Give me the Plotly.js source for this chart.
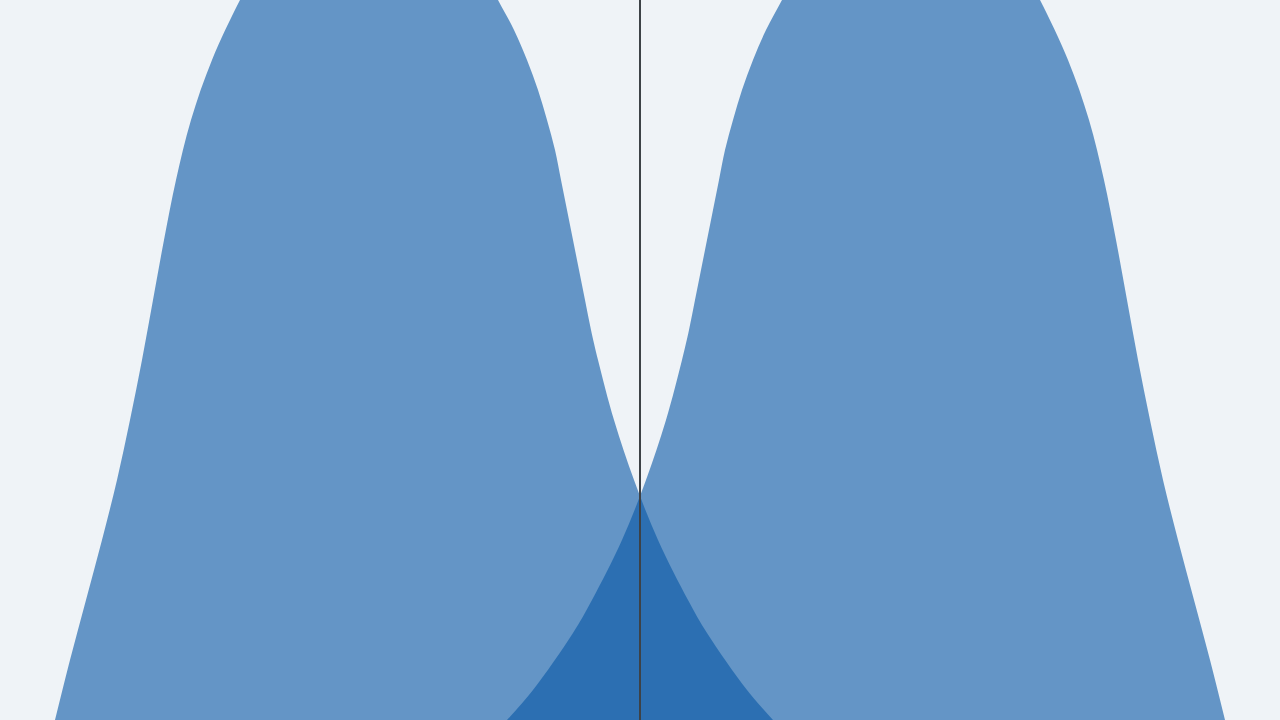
<!DOCTYPE html>
<html>
<head>
<meta charset="utf-8">
<script src="https://cdn.plot.ly/plotly-3.0.1.min.js"></script>
<style>
    html, body { margin: 0; padding: 0; background: #eff3f7; overflow: hidden; }
    #chart { width: 1280px; height: 720px; }
</style>
</head>
<body>
<div id="chart"></div>
<script>
// left density: x position and height (peak runs off the top of the view)
const leftX = [-5.85, -5.70, -5.54, -5.38, -5.23, -5.10, -4.98, -4.87, -4.76, -4.64, -4.49, -4.28, -4.00,
    -3.78, -3.50, -3.20, -2.85, -2.55, -2.25, -1.95, -1.68,
    -1.42, -1.26, -1.13, -1.02, -0.93, -0.85, -0.79, -0.73, -0.67, -0.61, -0.55, -0.49, -0.42,
    -0.26, -0.06, 0.18, 0.48, 0.67, 1.07, 1.33];
const leftY = [0, 0.6, 1.2, 1.8, 2.4, 3.0, 3.6, 4.2, 4.8, 5.4, 6.0, 6.6, 7.2,
    7.6, 8.0, 8.3, 8.48, 8.5, 8.38, 8.12, 7.7,
    7.2, 6.9, 6.6, 6.3, 6.0, 5.7, 5.4, 5.1, 4.8, 4.5, 4.2, 3.9, 3.6,
    3.0, 2.4, 1.8, 1.2, 0.87, 0.30, 0];

// right density
const rightX = [-1.33, -1.07, -0.67, -0.48, -0.18, 0.06, 0.26,
    0.42, 0.49, 0.55, 0.61, 0.67, 0.73, 0.79, 0.85, 0.93, 1.02, 1.13, 1.26, 1.42,
    1.68, 1.95, 2.25, 2.55, 2.85, 3.20, 3.50, 3.78,
    4.00, 4.28, 4.49, 4.64, 4.76, 4.87, 4.98, 5.10, 5.23, 5.38, 5.54, 5.70, 5.85];
const rightY = [0, 0.30, 0.87, 1.2, 1.8, 2.4, 3.0,
    3.6, 3.9, 4.2, 4.5, 4.8, 5.1, 5.4, 5.7, 6.0, 6.3, 6.6, 6.9, 7.2,
    7.7, 8.12, 8.38, 8.5, 8.48, 8.3, 8.0, 7.6,
    7.2, 6.6, 6.0, 5.4, 4.8, 4.2, 3.6, 3.0, 2.4, 1.8, 1.2, 0.6, 0];

// threshold marker
const splitAt = 0;

const fillColor = 'rgba(7, 86, 165, 0.6)';

function densityTrace(x, y, name) {
    return {
        x: x,
        y: y,
        name: name,
        type: 'scatter',
        mode: 'lines',
        fill: 'tozeroy',
        fillcolor: fillColor,
        // no simplify, otherwise near-straight runs lose their points and kink
        line: {width: 0, shape: 'spline', smoothing: 1, simplify: false},
        hoverinfo: 'skip',
    };
}

const layout = {
    width: 1280,
    height: 720,
    margin: {t: 0, r: 0, b: 0, l: 0},
    paper_bgcolor: '#eff3f7',
    plot_bgcolor: '#eff3f7',
    showlegend: false,
    xaxis: {range: [-6.4, 6.4], visible: false, fixedrange: true},
    yaxis: {range: [0, 7.2], visible: false, fixedrange: true},
    shapes: [
        {
            type: 'line',
            xref: 'x',
            yref: 'paper',
            x0: splitAt,
            x1: splitAt,
            y0: 0,
            y1: 1,
            line: {color: '#3d4247', width: 2},
        },
    ],
};

Plotly.newPlot(
    'chart',
    [densityTrace(leftX, leftY, 'left'), densityTrace(rightX, rightY, 'right')],
    layout,
    {displayModeBar: false, staticPlot: true},
);
</script>
</body>
</html>
